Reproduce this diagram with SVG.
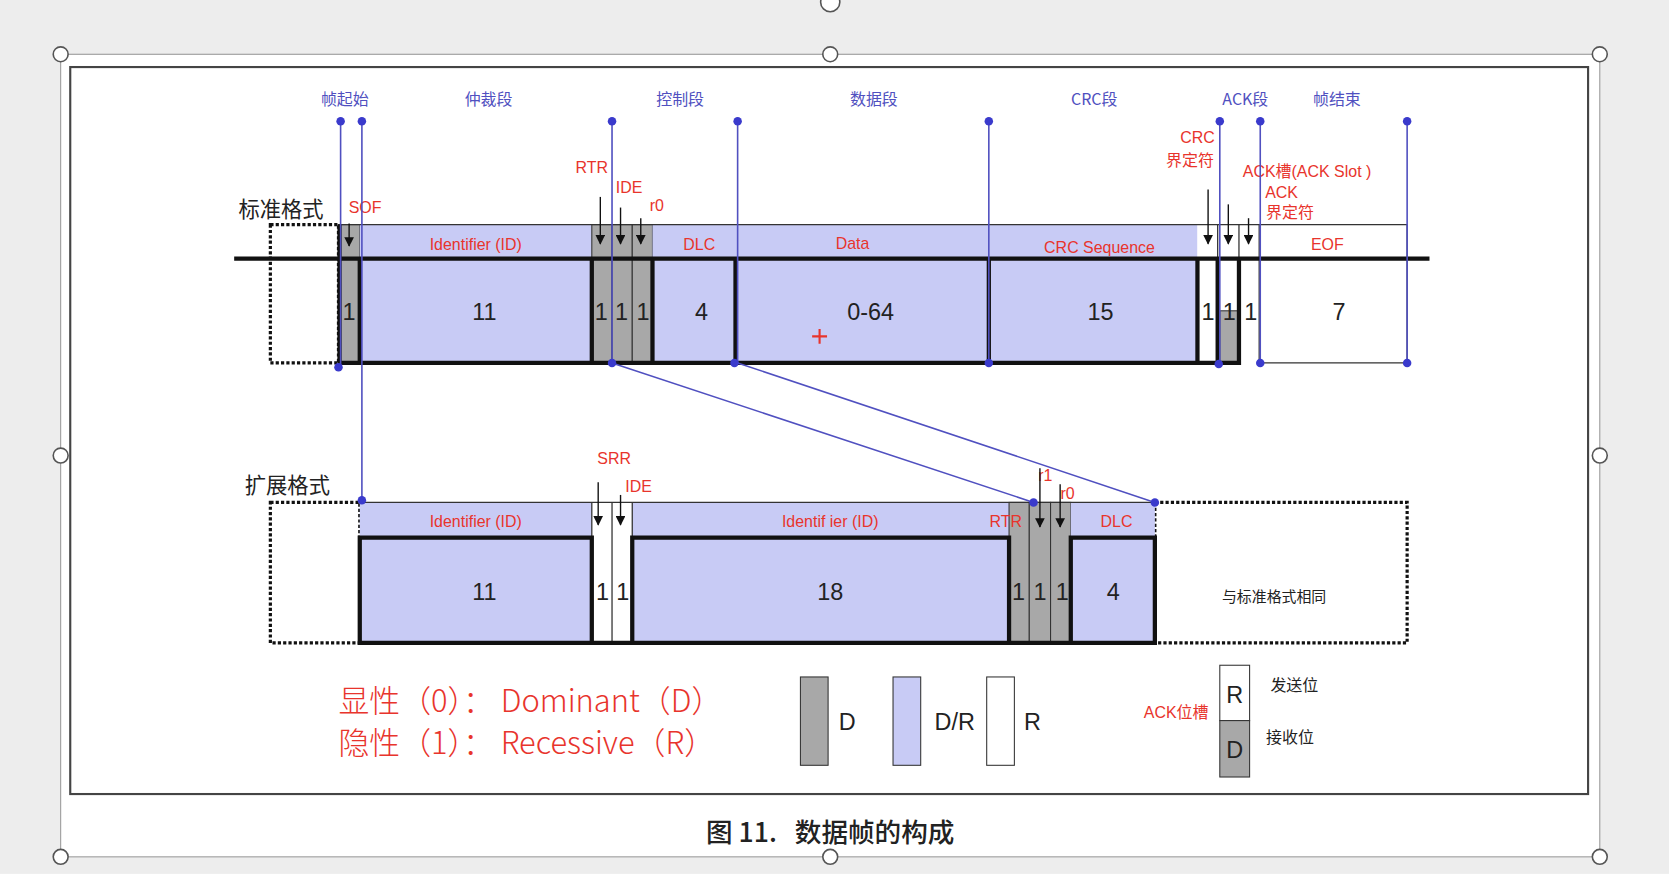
<svg xmlns="http://www.w3.org/2000/svg" width="1669" height="874" viewBox="0 0 1669 874">
<style>
.b{fill:#5050c0;font-family:"Noto Sans CJK SC","Liberation Sans",sans-serif;font-size:15px;text-anchor:middle}
.r{fill:#e8342c;font-family:"Liberation Sans","Noto Sans CJK SC",sans-serif;font-size:15px;text-anchor:middle}
.n{fill:#222;font-family:"Liberation Sans",sans-serif;font-size:22px;text-anchor:middle}
.k{fill:#222;font-family:"Noto Sans CJK SC",sans-serif;text-anchor:middle}
.bl{fill:#c8cbf5}.gr{fill:#a8a8a8;stroke:#333;stroke-width:1}.wh{fill:#fff}
.th{stroke:#111;stroke-width:4;fill:none}.tn{stroke:#333;stroke-width:1.2;fill:none}
.ds{stroke:#111;stroke-width:3;stroke-dasharray:3 2;fill:none}
.vl{stroke:#5050c0;stroke-width:1.5}
.dot{fill:#3a3acc}
.ar{stroke:#111;stroke-width:1.3;marker-end:url(#ah)}
.h{fill:#fff;stroke:#555;stroke-width:1.5}
</style>
<defs><marker id="ah" viewBox="0 0 10 10" refX="9" refY="5" markerWidth="7" markerHeight="7" orient="auto"><path d="M0,0L10,5L0,10z" fill="#111"/></marker></defs>
<g transform="scale(1.0644)">
<rect width="1568" height="821" fill="#ededed"/>
<rect x="57" y="51" width="1446" height="754" fill="#fff" stroke="#999" stroke-width="1"/>
<rect x="66" y="63" width="1426" height="683" fill="#fff" stroke="#444" stroke-width="2"/>
<g id="top-labels">
<text class="b" x="324" y="99">帧起始</text><text class="b" x="459" y="99">仲裁段</text><text class="b" x="639" y="99">控制段</text><text class="b" x="821" y="99">数据段</text><text class="b" x="1028" y="99">CRC段</text><text class="b" x="1170" y="99">ACK段</text><text class="b" x="1256" y="99">帧结束</text>
</g>
<g id="standard">
<text class="k" x="264" y="204" font-size="20">标准格式</text>
<rect class="ds" x="254" y="211" width="64" height="130"/>
<rect class="gr" x="318" y="211" width="20" height="130"/>
<rect class="bl" x="338" y="211" width="218" height="130"/>
<rect class="gr" x="556" y="211" width="19" height="130"/><rect class="gr" x="575" y="211" width="19" height="130"/><rect class="gr" x="594" y="211" width="19" height="130"/>
<rect class="bl" x="613" y="211" width="512" height="130"/>
<rect class="wh" x="1125" y="211" width="58" height="130"/>
<rect class="gr" x="1146" y="292" width="18" height="49"/>
<path class="tn" d="M318,211H1322M1183,341H1322M1144,211V243M1164,211V243M1183,211V341M1322,211V341"/>
<path class="th" d="M220,243H1343M318,341H1166M338,243V341M556,243V341M613,243V341M691,243V341M929,243V341M1125,243V341M1144,243V341M1164,243V341M319,211V341"/>
<text class="r" x="343" y="200">SOF</text><text class="r" x="556" y="163">RTR</text><text class="r" x="591" y="181">IDE</text><text class="r" x="617" y="198">r0</text>
<text class="r" x="447" y="235">Identifier (ID)</text><text class="r" x="657" y="235">DLC</text><text class="r" x="801" y="234">Data</text><text class="r" x="1033" y="238">CRC Sequence</text><text class="r" x="1247" y="235">EOF</text>
<text class="r" x="1125" y="134">CRC</text><text class="r" x="1118" y="156">界定符</text><text class="r" x="1228" y="166">ACK槽(ACK Slot )</text><text class="r" x="1204" y="186">ACK</text><text class="r" x="1212" y="205">界定符</text>
<text class="n" x="328" y="301">1</text><text class="n" x="455" y="301">11</text><text class="n" x="565" y="301">1</text><text class="n" x="584" y="301">1</text><text class="n" x="604" y="301">1</text><text class="n" x="659" y="301">4</text><text class="n" x="818" y="301">0-64</text><text class="n" x="1034" y="301">15</text><text class="n" x="1135" y="301">1</text><text class="n" x="1155" y="301">1</text><text class="n" x="1175" y="301">1</text><text class="n" x="1258" y="301">7</text>
<path d="M770,309V323M763,316H777" stroke="#e8342c" stroke-width="2"/>
</g>
<g id="extended">
<text class="k" x="270" y="463" font-size="20">扩展格式</text>
<rect class="ds" x="254" y="472" width="84" height="132"/>
<rect class="ds" x="1085" y="472" width="237" height="132"/>
<rect class="bl" x="338" y="472" width="218" height="132"/>
<rect class="wh" x="556" y="472" width="38" height="132"/>
<rect class="bl" x="594" y="472" width="354" height="132"/>
<rect class="gr" x="948" y="472" width="19" height="132"/><rect class="gr" x="967" y="472" width="20" height="132"/><rect class="gr" x="987" y="472" width="19" height="132"/>
<rect class="bl" x="1006" y="472" width="79" height="132"/>
<path class="tn" d="M338,472H1085M556,472V604M575,472V604M594,472V604"/>
<path class="th" d="M338,505H556V604H338ZM594,505H948V604H594ZM1006,505H1085V604H1006ZM948,604H1006M556,604H594"/>
<text class="r" x="447" y="495">Identifier (ID)</text><text class="r" x="577" y="436">SRR</text><text class="r" x="600" y="462">IDE</text><text class="r" x="780" y="495">Identif ier (ID)</text><text class="r" x="945" y="495">RTR</text><text class="r" x="982" y="452">r1</text><text class="r" x="1003" y="469">r0</text><text class="r" x="1049" y="495">DLC</text>
<text class="n" x="455" y="564">11</text><text class="n" x="566" y="564">1</text><text class="n" x="585" y="564">1</text><text class="n" x="780" y="564">18</text><text class="n" x="957" y="564">1</text><text class="n" x="977" y="564">1</text><text class="n" x="998" y="564">1</text><text class="n" x="1046" y="564">4</text>
<text class="k" x="1197" y="566" font-size="14">与标准格式相同</text>
</g>
<g id="connectors">
<path class="vl" d="M320,114V345M340,114V470M575,114V341M693,114V341M929,114V341M1146,114V341M1184,114V341M1322,114V341M575,341L971,472M693,341L1085,472"/>
<g class="dot"><circle cx="320" cy="114" r="4"/><circle cx="340" cy="114" r="4"/><circle cx="575" cy="114" r="4"/><circle cx="693" cy="114" r="4"/><circle cx="929" cy="114" r="4"/><circle cx="1146" cy="114" r="4"/><circle cx="1184" cy="114" r="4"/><circle cx="1322" cy="114" r="4"/>
<circle cx="318" cy="345" r="4"/><circle cx="575" cy="341" r="4"/><circle cx="690" cy="341" r="4"/><circle cx="929" cy="341" r="4"/><circle cx="1145" cy="342" r="4"/><circle cx="1184" cy="341" r="4"/><circle cx="1322" cy="341" r="4"/><circle cx="340" cy="470" r="4"/><circle cx="971" cy="472" r="4"/><circle cx="1085" cy="472" r="4"/></g>
<line class="ar" x1="328" y1="210" x2="328" y2="231"/><line class="ar" x1="564" y1="185" x2="564" y2="229"/><line class="ar" x1="583" y1="195" x2="583" y2="229"/><line class="ar" x1="602" y1="205" x2="602" y2="229"/><line class="ar" x1="1135" y1="178" x2="1135" y2="229"/><line class="ar" x1="1154" y1="192" x2="1154" y2="229"/><line class="ar" x1="1173" y1="205" x2="1173" y2="229"/>
<line class="ar" x1="562" y1="453" x2="562" y2="493"/><line class="ar" x1="583" y1="465" x2="583" y2="493"/><line class="ar" x1="977" y1="440" x2="977" y2="495"/><line class="ar" x1="996" y1="455" x2="996" y2="495"/>
</g>
<g id="legend">
<text x="318" y="669" fill="#e8342c" font-family="Noto Sans CJK SC,sans-serif" font-size="29" font-weight="300" xml:space="preserve">显性（0）： Dominant（D）</text>
<text x="318" y="708" fill="#e8342c" font-family="Noto Sans CJK SC,sans-serif" font-size="29" font-weight="300" xml:space="preserve">隐性（1）： Recessive（R）</text>
<rect x="752" y="636" width="26" height="83" fill="#a8a8a8" stroke="#333"/><rect x="839" y="636" width="26" height="83" fill="#c8cbf5" stroke="#333"/><rect x="927" y="636" width="26" height="83" fill="#fff" stroke="#333"/>
<text class="n" x="796" y="686">D</text><text class="n" x="897" y="686">D/R</text><text class="n" x="970" y="686">R</text>
<rect x="1146" y="625" width="28" height="52" fill="#fff" stroke="#333"/><rect x="1146" y="677" width="28" height="53" fill="#a8a8a8" stroke="#333"/>
<text class="n" x="1160" y="660">R</text><text class="n" x="1160" y="712">D</text>
<text class="r" x="1105" y="675">ACK位槽</text><text class="k" x="1216" y="649" font-size="15">发送位</text><text class="k" x="1212" y="698" font-size="15">接收位</text>
<text class="k" x="780" y="791" font-size="25" font-weight="500" xml:space="preserve">图 11.   数据帧的构成</text>
</g>
<g id="handles"><circle class="h" cx="780" cy="2" r="9"/><circle class="h" cx="57" cy="51" r="7"/><circle class="h" cx="780" cy="51" r="7"/><circle class="h" cx="1503" cy="51" r="7"/><circle class="h" cx="57" cy="428" r="7"/><circle class="h" cx="1503" cy="428" r="7"/><circle class="h" cx="57" cy="805" r="7"/><circle class="h" cx="780" cy="805" r="7"/><circle class="h" cx="1503" cy="805" r="7"/></g>
</g>
</svg>
